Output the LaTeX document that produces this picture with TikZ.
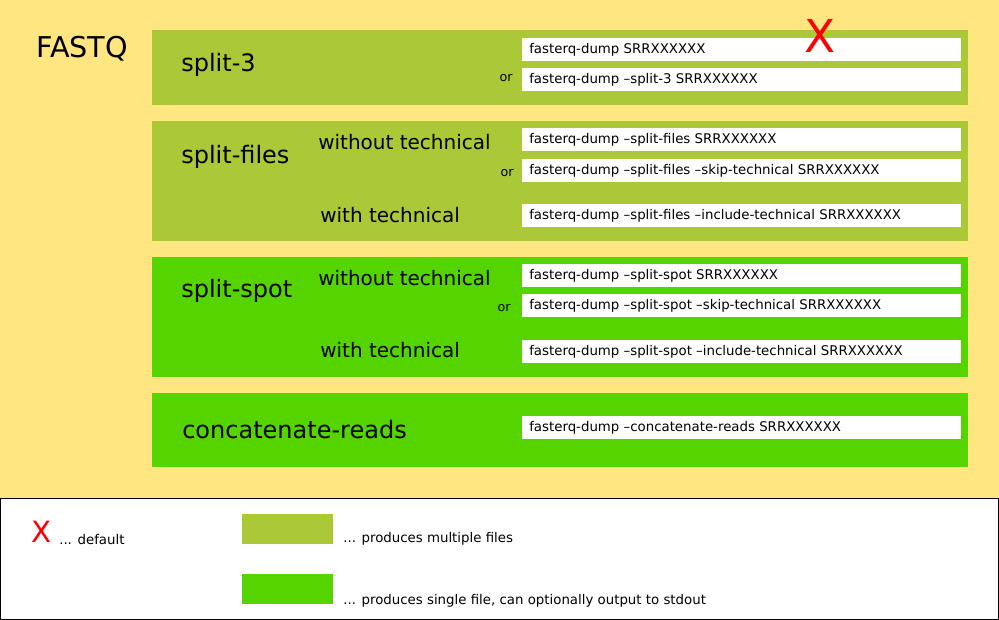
\documentclass[tikz,border=0pt]{standalone}
\usepackage{fontspec}
\setmainfont{DejaVu Sans}
\definecolor{olivec}{RGB}{171,200,55}
\definecolor{limec}{RGB}{85,212,0}
\definecolor{bgy}{RGB}{255,230,128}
\begin{document}
\begin{tikzpicture}[x=0.75pt,y=-0.75pt,
  olive/.style={fill=olivec},
  lime/.style={fill=limec},
  cmd/.style={fill=white,anchor=north west,minimum width=439*0.75pt,minimum height=23*0.75pt,inner sep=0pt},
  cmdt/.style={anchor=west,font=\fontsize{10}{12}\selectfont,inner sep=0pt},
  big/.style={font=\fontsize{18}{20}\selectfont,anchor=west,inner sep=0pt},
  mid/.style={font=\fontsize{15}{17}\selectfont,anchor=west,inner sep=0pt},
  ortxt/.style={font=\fontsize{9.5}{11}\selectfont,inner sep=0pt}]
\useasboundingbox (0,0) rectangle (999,620);
\fill[bgy] (0,0) rectangle (999,498);
\draw[fill=white,line width=0.8pt] (0.5,498.5) rectangle (998.5,619.5);
\node[font=\fontsize{21.5}{24}\selectfont] (fastq) at (82,49) {FASTQ};
% boxes
\fill[olive] (152,30) rectangle (968,105);
\fill[olive] (152,121) rectangle (968,241);
\fill[lime] (152,257) rectangle (968,377);
\fill[lime] (152,393) rectangle (968,467);
\node[big] (s3) at (181,65) {split-3};
\node[big] (sf) at (181,157) {split-files};
\node[big] (ss) at (181,291) {split-spot};
\node[big] (cr) at (182,430) {concatenate-reads};
\node[mid] (w1) at (318,142) {without technical};
\node[mid] (t1) at (320,215) {with technical};
\node[mid] (w2) at (318,278) {without technical};
\node[mid] (t2) at (320,350) {with technical};
\node[ortxt] (or1) at (506,78) {or};
\node[ortxt] (or2) at (507,173) {or};
\node[ortxt] (or3) at (504,308) {or};
% commands
\foreach \y/\t [count=\i] in {38/{fasterq-dump SRRXXXXXX},68/{fasterq-dump --split-3 SRRXXXXXX},128/{fasterq-dump --split-files SRRXXXXXX},159/{fasterq-dump --split-files --skip-technical SRRXXXXXX},204/{fasterq-dump --split-files --include-technical SRRXXXXXX},264/{fasterq-dump --split-spot SRRXXXXXX},294/{fasterq-dump --split-spot --skip-technical SRRXXXXXX},340/{fasterq-dump --split-spot --include-technical SRRXXXXXX},416/{fasterq-dump --concatenate-reads SRRXXXXXX}}{
  \node[cmd] (c\i) at (522,\y) {};
  \node[cmdt] (ct\i) at (529,\y+11.5) {\t};
}
\node[red,font=\fontsize{34}{36}\selectfont,inner sep=0pt] (x1) at (820,36) {X};
% legend
\node[red,font=\fontsize{22}{24}\selectfont,inner sep=0pt] (x2) at (42,532) {X};
\node[cmdt] (ld) at (59,540) {... default};
\fill[olive] (242,514) rectangle (333,544);
\fill[lime] (242,574) rectangle (333,604);
\node[cmdt] (l1) at (343,539) {... produces multiple files};
\node[cmdt] (l2) at (343,601) {... produces single file, can optionally output to stdout};
\end{tikzpicture}
\end{document}
